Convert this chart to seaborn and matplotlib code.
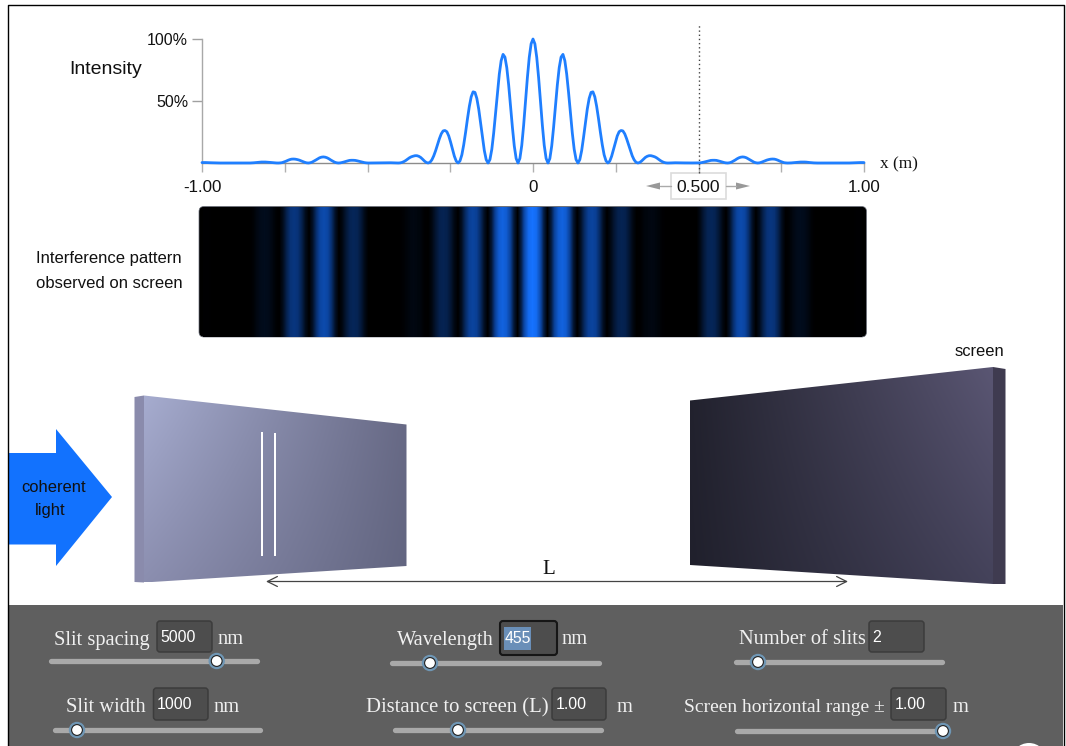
import matplotlib
matplotlib.use("Agg")
import matplotlib.pyplot as plt
import matplotlib.colors as mcolors
from matplotlib.patches import Circle, FancyBboxPatch, Polygon, Rectangle
import numpy as np
import pandas as pd
import seaborn as sns

# screen position (m), right half, the left half is the same picture mirrored
x_half = [
	0.0, 0.0057, 0.0113, 0.0170, 0.0226, 0.0283, 0.0339, 0.0396, 0.0453,
	0.0509, 0.0566, 0.0622, 0.0679, 0.0735, 0.0792, 0.0848, 0.0905,
	0.0962, 0.1018, 0.1075, 0.1131, 0.1188, 0.1244, 0.1301, 0.1358,
	0.1414, 0.1471, 0.1527, 0.1584, 0.1640, 0.1697, 0.1753, 0.1810,
	0.1867, 0.1923, 0.1980, 0.2036, 0.2093, 0.2149, 0.2206, 0.2263,
	0.2319, 0.2376, 0.2432, 0.2489, 0.2545, 0.2602, 0.2658, 0.2715,
	0.2772, 0.2828, 0.2885, 0.2941, 0.2998, 0.3054, 0.3111, 0.3168,
	0.3224, 0.3281, 0.3337, 0.3394, 0.3450, 0.3507, 0.3563, 0.3620,
	0.3677, 0.3733, 0.3790, 0.3846, 0.3903, 0.3959, 0.4016, 0.4073,
	0.4129, 0.4186, 0.4242, 0.4299, 0.4355, 0.4412, 0.4468, 0.4525,
	0.4582, 0.4638, 0.4695, 0.4751, 0.4808, 0.4864, 0.4921, 0.4978,
	0.5034, 0.5091, 0.5147, 0.5204, 0.5260, 0.5317, 0.5373, 0.5430,
	0.5487, 0.5543, 0.5600, 0.5656, 0.5713, 0.5769, 0.5826, 0.5883,
	0.5939, 0.5996, 0.6052, 0.6109, 0.6165, 0.6222, 0.6278, 0.6335,
	0.6392, 0.6448, 0.6505, 0.6561, 0.6618, 0.6674, 0.6731, 0.6788,
	0.6844, 0.6901, 0.6957, 0.7014, 0.7070, 0.7127, 0.7183, 0.7240,
	0.7297, 0.7353, 0.7410, 0.7466, 0.7523, 0.7579, 0.7636, 0.7693,
	0.7749, 0.7806, 0.7862, 0.7919, 0.7975, 0.8032, 0.8088, 0.8145,
	0.8202, 0.8258, 0.8315, 0.8371, 0.8428, 0.8484, 0.8541, 0.8598,
	0.8654, 0.8711, 0.8767, 0.8824, 0.8880, 0.8937, 0.8993, 0.9050,
	0.9107, 0.9163, 0.9220, 0.9276, 0.9333, 0.9389, 0.9446, 0.9503,
	0.9559, 0.9616, 0.9672, 0.9729, 0.9785, 0.9842, 0.9898, 0.9955,
]

# intensity (%)
intensity_half = [
	100, 96.1, 85.2, 68.7, 49.5, 30.4, 14.3, 3.7, 0,
	3.6, 13.8, 28.8, 46, 62.9, 76.9, 85.4, 87.6,
	82.5, 71.7, 56.7, 40.1, 24.1, 11.1, 2.8, 0,
	2.7, 10.1, 20.7, 32.5, 43.5, 52.1, 56.9, 57.4,
	53.4, 45.7, 35.6, 24.8, 14.7, 6.6, 1.7, 0,
	1.5, 5.5, 11, 16.8, 21.8, 25.2, 26.2, 25.9,
	23.5, 19.6, 14.9, 10, 5.8, 2.6, 0.6, 0,
	0.4, 1.6, 3.1, 4.5, 5.4, 5.9, 5.9, 5.5,
	5, 4.2, 3.1, 2, 1.1, 0.45, 0.1, 0,
	0.02, 0.08, 0.15, 0.2, 0.2, 0.15, 0.1, 0.1,
	0.08, 0.05, 0.05, 0.05, 0.04, 0.04, 0.02, 0,
	0.1, 0.3, 0.6, 1, 1.4, 1.8, 2.1, 2.2,
	2.2, 2.1, 1.7, 1.3, 0.8, 0.4, 0.1, 0,
	0.2, 0.7, 1.5, 2.4, 3.4, 4.2, 4.7, 4.9,
	4.7, 4.2, 3.3, 2.4, 1.5, 0.7, 0.2, 0,
	0.15, 0.6, 1.2, 1.8, 2.4, 2.8, 3.1, 3.2,
	3.1, 2.7, 2.1, 1.4, 0.8, 0.3, 0.1, 0,
	0.03, 0.1, 0.25, 0.4, 0.55, 0.7, 0.78, 0.8,
	0.78, 0.7, 0.5, 0.35, 0.2, 0.1, 0.02, 0,
	0, 0, 0.01, 0.02, 0.03, 0.03, 0.02, 0,
	0, 0, 0, 0, 0, 0, 0, 0,
	0.03, 0.1, 0.15, 0.2, 0.28, 0.35, 0.38, 0.4,
]

# brightness of the fringes in the dark strip (0-1), one value every 0.0113 m
strip_half = [
	1.0, 0.94, 0.66, 0.25, 0, 0.20, 0.55, 0.78, 0.85,
	0.78, 0.52, 0.18, 0, 0.13, 0.35, 0.50, 0.55,
	0.50, 0.34, 0.12, 0, 0.07, 0.18, 0.26, 0.28,
	0.26, 0.17, 0.06, 0, 0.01, 0.04, 0.05, 0.06,
	0.05, 0.03, 0.01, 0, 0, 0, 0, 0,
	0, 0, 0, 0, 0.07, 0.19, 0.28, 0.30,
	0.28, 0.19, 0.07, 0, 0.14, 0.38, 0.56, 0.62,
	0.56, 0.38, 0.14, 0, 0.10, 0.27, 0.40, 0.43,
	0.40, 0.27, 0.10, 0, 0.02, 0.06, 0.09, 0.10,
	0.09, 0.06, 0.02, 0, 0, 0, 0, 0,
	0, 0, 0, 0, 0, 0, 0.01, 0.01,
]

x_ticks = [-1.0, -0.75, -0.5, -0.25, 0.0, 0.25, 0.5, 0.75, 1.0]
x_tick_labels = ["-1.00", "", "", "", "0", "", "", "", "1.00"]
y_ticks = [50, 100]
y_tick_labels = ["50%", "100%"]
cursor_x = 0.5

control_labels = ["Slit spacing", "Slit width", "Wavelength", "Distance to screen (L)", "Number of slits", "Screen horizontal range ±"]
control_values = ["5000", "1000", "455", "1.00", "2", "1.00"]
control_units = ["nm", "nm", "nm", "m", "", "m"]

SANS = "Liberation Sans"
SERIF = "Liberation Serif"
W, H = 1066, 746

sns.set_theme(style="white")
plt.rcParams["font.family"] = [SANS, "DejaVu Sans"]


def fig_rect(left, top, right, bottom):
	return [left / W, 1 - bottom / H, (right - left) / W, (bottom - top) / H]


def gradient(ax, corners, poly):
	# corners = top left, top right, bottom left, bottom right
	tl, tr, bl, br = [np.array(mcolors.to_rgb(c)) for c in corners]
	u = np.linspace(0, 1, 128)[None, :, None]
	v = np.linspace(0, 1, 128)[:, None, None]
	colors = (1 - v) * ((1 - u) * tl + u * tr) + v * ((1 - u) * bl + u * br)
	xs = [p[0] for p in poly]
	ys = [p[1] for p in poly]
	im = ax.imshow(colors, extent=[min(xs), max(xs), max(ys), min(ys)], interpolation="bilinear", aspect="auto", zorder=2)
	patch = Polygon(poly, closed=True, fc="none", ec="none", transform=ax.transData)
	ax.add_patch(patch)
	im.set_clip_path(patch)


def slider(ax, x0, x1, y, knob):
	ax.plot([x0 + 2.6, x1 - 2.6], [y, y], color="#a9a9a9", lw=3.8, solid_capstyle="round", zorder=3)
	ax.add_patch(Circle((knob, y), 8.2, fc="#6f96b4", ec="none", zorder=4))
	ax.add_patch(Circle((knob, y), 5.4, fc="white", ec="#202020", lw=0.8, zorder=5))


fig = plt.figure(figsize=(W / 100, H / 100), dpi=100, facecolor="white")

# page furniture in pixel coordinates
bg = fig.add_axes([0, 0, 1, 1])
bg.set_xlim(0, W)
bg.set_ylim(H, 0)
bg.axis("off")

# frame and bottom panel
bg.add_patch(Rectangle((8, 605), 1055, 141, fc="#5f5f5f", ec="none", zorder=1))
bg.plot([7.5, 7.5, 1064, 1064], [746, 4.5, 4.5, 746], color="black", lw=1.0, zorder=6)
bg.add_patch(Circle((1029, 761), 18, fc="white", ec="none", zorder=2))

# coherent light arrow
bg.add_patch(Polygon([(8, 453), (56, 453), (56, 429), (112, 497), (56, 566), (56, 544.5), (8, 544.5)],
	closed=True, fc="#1272fe", ec="none", zorder=2))
bg.text(54, 487, "coherent", fontsize=11.9, ha="center", va="center", color="#101010", zorder=3)
bg.text(50.5, 511, "light", fontsize=11.9, ha="center", va="center", color="#101010", zorder=3)

# slit plate
bg.add_patch(Polygon([(134.5, 397), (144, 395.5), (144, 582.5), (134.5, 582)], closed=True, fc="#8a8bac", ec="none", zorder=2))
gradient(bg, ["#a6accf", "#686a86", "#8b8eaf", "#626580"], [(144, 395.5), (406.5, 424.5), (406.5, 566), (144, 582.5)])
bg.add_patch(Rectangle((260.5, 431.5), 2.6, 124.5, fc="white", ec="none", zorder=3))
bg.add_patch(Rectangle((274, 432.5), 2.4, 123, fc="white", ec="none", zorder=3))

# screen
gradient(bg, ["#22222e", "#5a5673", "#20202c", "#44425a"], [(690, 400.5), (993, 367), (993, 584), (690, 565)])
bg.add_patch(Polygon([(993, 367), (1005.5, 369), (1005.5, 584), (993, 584)], closed=True, fc="#3f3b50", ec="none", zorder=2))
bg.text(979.5, 351, "screen", fontsize=11.9, ha="center", va="center", color="#111111")

# distance arrow
bg.annotate("", xy=(266, 581.5), xytext=(848, 581.5), zorder=3,
	arrowprops=dict(arrowstyle="<->,head_length=0.6,head_width=0.3", color="#444444", lw=0.9, shrinkA=0, shrinkB=0))
bg.text(548.5, 569, "L", family=SERIF, fontsize=15, ha="center", va="center", color="#111111")

bg.text(106, 70, "Intensity", fontsize=14, ha="center", va="center", color="#111111")
bg.text(36, 259, "Interference pattern", fontsize=12, ha="left", va="center", color="#111111")
bg.text(36, 284, "observed on screen", fontsize=12, ha="left", va="center", color="#111111")
bg.text(880, 164, "x (m)", family=SERIF, fontsize=12.4, ha="left", va="center", color="#111111")

# cursor readout under the axis
bg.add_patch(Rectangle((671, 172.5), 55, 26.5, fc="white", ec="#dcdcdc", lw=1.2, zorder=3))
bg.text(698.5, 187.5, "0.500", fontsize=12.6, ha="center", va="center", color="#111111", zorder=4)
bg.add_patch(Polygon([(646, 186), (660, 182.5), (660, 189.5)], closed=True, fc="#999999", ec="none", zorder=3))
bg.add_patch(Polygon([(750, 186), (736, 182.5), (736, 189.5)], closed=True, fc="#999999", ec="none", zorder=3))
bg.plot([660, 671], [186, 186], color="#aaaaaa", lw=1, zorder=3)
bg.plot([726, 736], [186, 186], color="#aaaaaa", lw=1, zorder=3)

# controls: label right edge, box, value x, unit position, slider track and knob, text y, label size
layout = [
	(150, (157, 621, 212, 652), 160, (218, 640), (48.5, 260, 661, 216.7), 640, 14.7),
	(146, (153.5, 688, 208, 720), 157, (213, 708), (52, 263, 730, 77), 708, 14.7),
	(494, (500, 621, 557, 655), 504.5, (562, 640), (389, 602, 663, 430), 640, 14.7),
	(549, (552, 688, 606, 720), 555.5, (617, 708), (392, 604, 730, 458), 708, 14.85),
	(866, (869, 621, 924, 652), 872, (0, 0), (733, 945, 662, 758), 640, 14.7),
	(885, (891, 688, 946, 720), 895, (953, 708), (734, 943, 731, 943), 708, 14.0),
]
for i in range(0, len(layout)):
	label_right, box, value_x, unit_pos, track, text_y, label_size = layout[i]
	focused = control_values[i] == "455"
	bg.text(label_right, text_y, control_labels[i], family=SERIF, fontsize=label_size, ha="right", va="center", color="#f0f0f0", zorder=3)
	bg.add_patch(FancyBboxPatch((box[0] + 3, box[1] + 3), box[2] - box[0] - 6, box[3] - box[1] - 6, boxstyle="round,pad=3",
		fc="#4d4d4d", ec="#161616" if focused else "#3c3c3c", lw=1.5 if focused else 1.1, zorder=2))
	if focused:
		bg.add_patch(Rectangle((504, 627), 27, 23, fc="#6a8fb8", ec="none", zorder=3))
	bg.text(value_x, (box[1] + box[3]) / 2 + 0.5, control_values[i], fontsize=11.4, ha="left", va="center", color="white", zorder=4)
	if control_units[i]:
		bg.text(unit_pos[0], unit_pos[1], control_units[i], family=SERIF, fontsize=14.7, ha="left", va="center", color="#f0f0f0", zorder=3)
	slider(bg, track[0], track[1], track[2], track[3])

# intensity curve
x_half = np.array(x_half)
data = pd.DataFrame({
	"x": np.concatenate([-x_half[::-1], x_half[1:]]),
	"intensity": intensity_half[::-1] + intensity_half[1:],
})
data = pd.concat([pd.DataFrame({"x": [-1.0], "intensity": [0.35]}), data, pd.DataFrame({"x": [1.0], "intensity": [0.35]})])

ax = fig.add_axes(fig_rect(202, 23, 864, 163))
ax.patch.set_alpha(0)
sns.lineplot(data=data, x="x", y="intensity", color="#1f7fff", lw=2.0, ax=ax, zorder=4, clip_on=False, solid_joinstyle="round")
ax.axvline(cursor_x, color="#444444", ls=(0, (1, 2)), lw=1, ymin=-0.07, clip_on=False, zorder=3)
ax.set_xlim(-1, 1)
ax.set_ylim(0, 112.9)
ax.set_xticks(x_ticks)
ax.set_xticklabels(x_tick_labels, fontsize=12.2, color="#111111")
ax.set_yticks(y_ticks)
ax.set_yticklabels(y_tick_labels, fontsize=11.5, color="#111111")
ax.set_xlabel("")
ax.set_ylabel("")
ax.tick_params(axis="x", length=6.5, width=1, color="#b0b0b0", pad=6, bottom=True)
ax.tick_params(axis="y", length=7, width=1, color="#a0a0a0", pad=3, left=True)
sns.despine(ax=ax)
ax.spines["left"].set_bounds(0, 100)
ax.spines["left"].set_color("#a8a8a8")
ax.spines["bottom"].set_color("#8c8c8c")
ax.spines["left"].set_linewidth(1)
ax.spines["bottom"].set_linewidth(1)

# fringe strip, rounded black card with the fringes clipped to it
card = FancyBboxPatch((204, 211.5), 657.5, 120.5, boxstyle="round,pad=5,rounding_size=5",
	fc="black", ec="#6a6f7a", lw=0.5, zorder=2)
bg.add_patch(card)
strip = fig.add_axes(fig_rect(199, 206.5, 866.5, 337))
strip.axis("off")
levels = np.array(strip_half[::-1] + strip_half[1:])
fringe_cmap = mcolors.LinearSegmentedColormap.from_list("fringe", ["#000000", "#0a3f94", "#1672ff"])
im = strip.imshow(levels[None, :], extent=[-0.9955, 0.9955, 0, 1], aspect="auto", cmap=fringe_cmap, vmin=0, vmax=1,
	interpolation="bilinear", zorder=2)
strip.set_xlim(-1.0085, 1.0085)
strip.set_ylim(0, 1)

plt.savefig("out.png", dpi=100)
